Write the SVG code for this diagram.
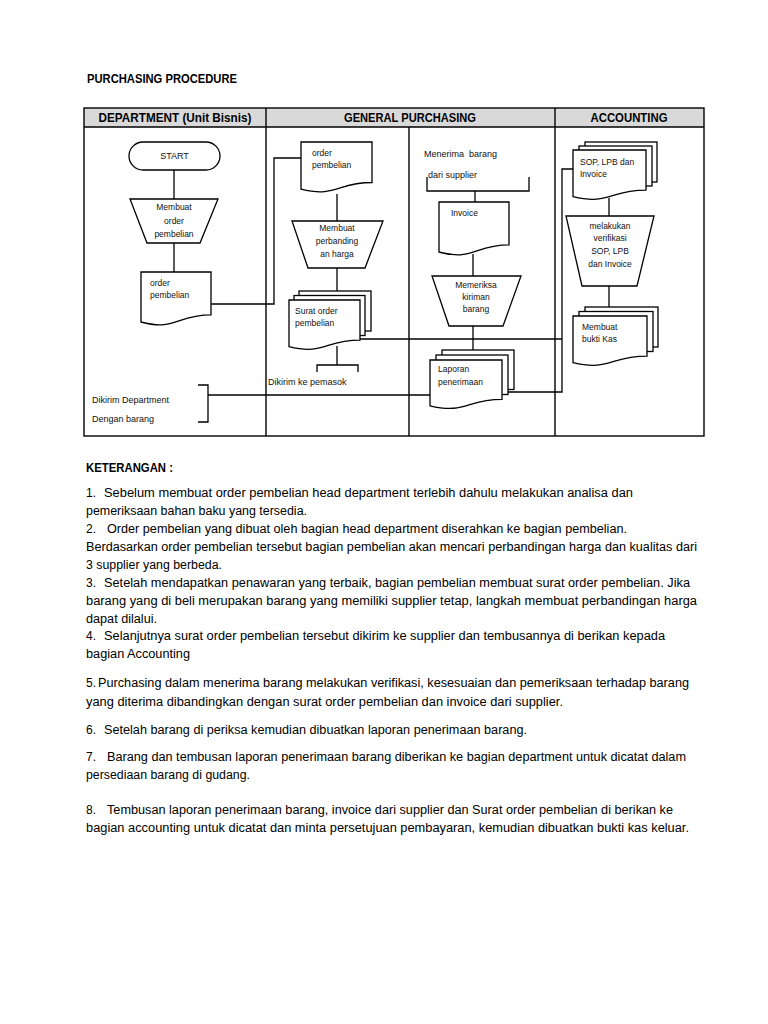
<svg xmlns="http://www.w3.org/2000/svg" width="768" height="1024" viewBox="0 0 768 1024">
<style>
.shape{fill:#fff;stroke:#000;stroke-width:1.3}
.ln{fill:none;stroke:#000;stroke-width:1.3}
.grid{fill:none;stroke:#000;stroke-width:1.4}
.hdr{fill:#d9d9d9;stroke:none}
.lbl{font-family:"Liberation Sans",Arial,sans-serif;font-size:8.5px;fill:#111}
.lblc{font-family:"Liberation Sans",Arial,sans-serif;font-size:8.5px;fill:#111;text-anchor:middle}
.h{font-family:"Liberation Sans",Arial,sans-serif;font-size:12px;font-weight:bold;fill:#000}
.hc{font-family:"Liberation Sans",Arial,sans-serif;font-size:12px;font-weight:bold;fill:#000;text-anchor:middle}
.b{font-family:"Liberation Sans",Arial,sans-serif;font-size:12px;fill:#000}
</style>
<rect width="768" height="1024" fill="#fff"/>
<text class="h" x="87" y="83" textLength="150" lengthAdjust="spacingAndGlyphs">PURCHASING PROCEDURE</text>

<g id="table">
<rect class="hdr" x="84" y="108" width="620" height="19"/>
<rect class="grid" x="84" y="108" width="620" height="328"/>
<line class="grid" x1="84" y1="127" x2="704" y2="127"/>
<line class="grid" x1="266" y1="108" x2="266" y2="436"/>
<line class="grid" x1="555" y1="108" x2="555" y2="436"/>
<line class="grid" x1="409" y1="127" x2="409" y2="436"/>
<text class="hc" x="175" y="122" textLength="153" lengthAdjust="spacingAndGlyphs">DEPARTMENT (Unit Bisnis)</text>
<text class="hc" x="410" y="122" textLength="132" lengthAdjust="spacingAndGlyphs">GENERAL PURCHASING</text>
<text class="hc" x="629" y="122" textLength="77" lengthAdjust="spacingAndGlyphs">ACCOUNTING</text>
</g>

<g id="connectors">
<line class="ln" x1="174" y1="170" x2="174" y2="199"/>
<line class="ln" x1="174" y1="243" x2="174" y2="272"/>
<polyline class="ln" points="192,304 274,304 274,158 301,158"/>
<line class="ln" x1="337" y1="194" x2="337" y2="221"/>
<line class="ln" x1="337" y1="268" x2="337" y2="291"/>
<line class="ln" x1="337" y1="346" x2="337" y2="365"/>
<polyline class="ln" points="317,372 317,365 358,365 358,372"/>
<line class="ln" x1="360" y1="339" x2="562" y2="339"/>
<polyline class="ln" points="573,169 562,169 562,392 508,392"/>
<polyline class="ln" points="198,385 208,385 208,422 198,422"/>
<line class="ln" x1="208" y1="395" x2="430" y2="395"/>
<polyline class="ln" points="427,177 427,191 529,191 529,177"/>
<line class="ln" x1="475" y1="191" x2="475" y2="202"/>
<line class="ln" x1="473" y1="254" x2="473" y2="276"/>
<line class="ln" x1="473" y1="326" x2="473" y2="350"/>
<line class="ln" x1="609" y1="198" x2="609" y2="216"/>
<line class="ln" x1="609" y1="286" x2="609" y2="307"/>
</g>

<g id="start">
<rect class="shape" x="129" y="142" width="91" height="28" rx="14" ry="14"/>
<text class="lblc" x="174.5" y="159" style="font-size:9px">START</text>
</g>

<g id="membuat-order">
<polygon class="shape" points="130,199 218,199 200,243 147,243"/>
<text class="lblc" x="174" y="210">Membuat</text>
<text class="lblc" x="174" y="224">order</text>
<text class="lblc" x="174" y="237">pembelian</text>
</g>

<g id="doc-order-dept">
<path class="shape" d="M141 272H211V314.9C176 314.9 176 331.3 141 322Z"/>
<text class="lbl" x="150" y="286">order</text>
<text class="lbl" x="150" y="298">pembelian</text>
</g>

<g id="dikirim-department">
<text class="lbl" x="92" y="403" style="font-size:9px">Dikirim Department</text>
<text class="lbl" x="92" y="422" style="font-size:9px">Dengan barang</text>
</g>

<g id="doc-order-gp">
<path class="shape" d="M301 142H372V182.5C336.5 182.5 336.5 197.9 301 189.2Z"/>
<text class="lbl" x="312" y="156">order</text>
<text class="lbl" x="312" y="168">pembelian</text>
</g>

<g id="membuat-perbandingan">
<polygon class="shape" points="292,221 383,221 365,268 308,268"/>
<text class="lblc" x="337" y="231">Membuat</text>
<text class="lblc" x="337" y="244">perbanding</text>
<text class="lblc" x="337" y="257">an harga</text>
</g>

<g id="surat-order">
<rect class="shape" x="299" y="291" width="72" height="40"/>
<rect class="shape" x="294" y="295.5" width="71" height="40"/>
<path class="shape" d="M289 300H360V340.1C324.5 340.1 324.5 355.4 289 346.7Z"/>
<text class="lbl" x="295" y="314">Surat order</text>
<text class="lbl" x="295" y="326">pembelian</text>
</g>

<g id="dikirim-pemasok">
<text class="lbl" x="268" y="385" style="font-size:9px">Dikirim ke pemasok</text>
</g>

<g id="menerima-barang">
<text class="lbl" x="424" y="157" style="font-size:9px;white-space:pre">Menerima  barang</text>
<text class="lbl" x="428" y="178" style="font-size:9px">dari supplier</text>
</g>

<g id="invoice">
<path class="shape" d="M439 202H509V244.9C474 244.9 474 261.3 439 252Z"/>
<text class="lbl" x="451" y="216">Invoice</text>
</g>

<g id="memeriksa">
<polygon class="shape" points="432,276 521,276 503,326 449,326"/>
<text class="lblc" x="476" y="288">Memeriksa</text>
<text class="lblc" x="476" y="300">kiriman</text>
<text class="lblc" x="476" y="312">barang</text>
</g>

<g id="laporan">
<rect class="shape" x="442" y="350" width="72" height="39.5"/>
<rect class="shape" x="436" y="355" width="72" height="39.5"/>
<path class="shape" d="M430 360H502V399.3C466 399.3 466 414.3 430 405.8Z"/>
<text class="lbl" x="438" y="372">Laporan</text>
<text class="lbl" x="438" y="385">penerimaan</text>
</g>

<g id="sop">
<rect class="shape" x="585" y="142" width="72" height="40"/>
<rect class="shape" x="579" y="146" width="73" height="40"/>
<path class="shape" d="M573 150H646V190.1C609.5 190.1 609.5 205.4 573 196.7Z"/>
<text class="lbl" x="580" y="165">SOP, LPB dan</text>
<text class="lbl" x="580" y="177">Invoice</text>
</g>

<g id="verifikasi">
<polygon class="shape" points="566,216 654,216 637,286 582,286"/>
<text class="lblc" x="610" y="229">melakukan</text>
<text class="lblc" x="610" y="241">verifikasi</text>
<text class="lblc" x="610" y="254">SOP, LPB</text>
<text class="lblc" x="610" y="267">dan Invoice</text>
</g>

<g id="bukti-kas">
<rect class="shape" x="585" y="307" width="73" height="40"/>
<rect class="shape" x="579" y="311.5" width="74" height="40"/>
<path class="shape" d="M573 316H647V356.1C610 356.1 610 371.4 573 362.7Z"/>
<text class="lbl" x="582" y="330">Membuat</text>
<text class="lbl" x="582" y="342">bukti Kas</text>
</g>

<g id="keterangan">
<text class="h" x="86" y="472" textLength="87" lengthAdjust="spacingAndGlyphs">KETERANGAN :</text>
<text class="b" x="86" y="497">1.</text>
<text class="b" x="104" y="497" textLength="529" lengthAdjust="spacingAndGlyphs">Sebelum membuat order pembelian  head department terlebih dahulu melakukan analisa dan</text>
<text class="b" x="86" y="515" textLength="221" lengthAdjust="spacingAndGlyphs">pemeriksaan bahan baku yang tersedia.</text>
<text class="b" x="86" y="533">2.</text>
<text class="b" x="107" y="533" textLength="520" lengthAdjust="spacingAndGlyphs">Order pembelian yang dibuat oleh bagian head department diserahkan ke bagian pembelian.</text>
<text class="b" x="86" y="551" textLength="611" lengthAdjust="spacingAndGlyphs">Berdasarkan order pembelian tersebut bagian pembelian akan mencari perbandingan harga dan kualitas dari</text>
<text class="b" x="86" y="569" textLength="136" lengthAdjust="spacingAndGlyphs">3 supplier yang berbeda.</text>
<text class="b" x="86" y="587">3.</text>
<text class="b" x="104" y="587" textLength="586" lengthAdjust="spacingAndGlyphs">Setelah mendapatkan penawaran yang terbaik, bagian pembelian membuat surat order pembelian. Jika</text>
<text class="b" x="86" y="605" textLength="611" lengthAdjust="spacingAndGlyphs">barang yang di beli merupakan barang yang memiliki supplier tetap, langkah membuat perbandingan harga</text>
<text class="b" x="86" y="623" textLength="71" lengthAdjust="spacingAndGlyphs">dapat dilalui.</text>
<text class="b" x="86" y="640">4.</text>
<text class="b" x="104" y="640" textLength="561" lengthAdjust="spacingAndGlyphs">Selanjutnya surat order pembelian tersebut dikirim ke supplier dan tembusannya di berikan kepada</text>
<text class="b" x="86" y="658" textLength="104" lengthAdjust="spacingAndGlyphs">bagian Accounting</text>
<text class="b" x="86" y="687">5.</text>
<text class="b" x="98" y="687" textLength="591" lengthAdjust="spacingAndGlyphs">Purchasing dalam menerima  barang melakukan verifikasi, kesesuaian dan pemeriksaan terhadap barang</text>
<text class="b" x="86" y="706" textLength="477" lengthAdjust="spacingAndGlyphs">yang diterima dibandingkan dengan surat order pembelian dan invoice dari supplier.</text>
<text class="b" x="86" y="734">6.</text>
<text class="b" x="104" y="734" textLength="423" lengthAdjust="spacingAndGlyphs">Setelah barang di periksa kemudian dibuatkan laporan penerimaan barang.</text>
<text class="b" x="86" y="761">7.</text>
<text class="b" x="107" y="761" textLength="579" lengthAdjust="spacingAndGlyphs">Barang dan tembusan laporan penerimaan barang diberikan ke bagian department untuk dicatat dalam</text>
<text class="b" x="86" y="779" textLength="164" lengthAdjust="spacingAndGlyphs">persediaan barang di gudang.</text>
<text class="b" x="86" y="814">8.</text>
<text class="b" x="107" y="814" textLength="566" lengthAdjust="spacingAndGlyphs">Tembusan laporan penerimaan barang, invoice dari supplier dan Surat order pembelian di berikan ke</text>
<text class="b" x="86" y="832" textLength="603" lengthAdjust="spacingAndGlyphs">bagian accounting untuk dicatat dan minta persetujuan pembayaran, kemudian dibuatkan bukti kas keluar.</text>
</g>
</svg>
